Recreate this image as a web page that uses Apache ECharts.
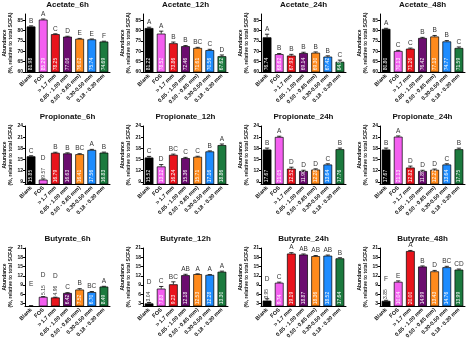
<!DOCTYPE html>
<html><head><meta charset="utf-8">
<script src="https://cdn.jsdelivr.net/npm/echarts@6/dist/echarts.min.js"></script>
<style>html,body{margin:0;padding:0;background:#fff}#c{width:474px;height:342px}</style>
</head><body><div id="c"></div>
<script>
// ---- data ----
const categories = ['Blank','FOS','> 1.7 mm','0.85 - 1.00 mm','0.50 - 0.85 mm)','0.30-0.50 mm','0.18 - 0.30 mm'];

const panelTitles = ['Acetate_6h','Acetate_12h','Acetate_24h','Acetate_48h',
                     'Propionate_6h','Propionate_12h','Propionate_24h','Propionate_24h',
                     'Butyrate_6h','Butyrate_12h','Butyrate_24h','Butyrate_48h'];

const acetate6h  = [81.98, 85.29, 78.25, 77.06, 76.02, 75.74, 74.69];
const acetate12h = [81.22, 78.52, 73.86, 72.46, 71.61, 70.56, 67.62];
const acetate24h = [76.74, 68.62, 67.93, 69.14, 69.30, 67.42, 64.94];
const acetate48h = [80.80, 70.13, 71.26, 76.42, 77.13, 74.77, 71.59];
const propionate6h  = [15.85, 9.57, 16.79, 16.63, 16.41, 17.56, 16.83];
const propionate12h = [15.52, 13.12, 16.24, 15.36, 15.71, 17.16, 18.86];
const propionate24h = [17.67, 21.05, 12.52, 11.90, 12.28, 13.64, 17.76];
const propionate48h = [17.67, 21.13, 12.82, 11.89, 12.22, 13.64, 17.75];
const butyrate6h  = [2.25, 5.15, 4.96, 6.42, 7.52, 6.70, 8.49];
const butyrate12h = [3.04, 7.83, 9.23, 12.18, 12.53, 12.28, 13.30];
const butyrate24h = [3.95, 9.74, 19.19, 18.87, 18.36, 18.52, 17.64];
const butyrate48h = [3.85, 10.04, 20.00, 14.99, 13.43, 14.76, 13.99];

const acetate6hErr  = [0.3, 0.3, 0.2, 0.2, 0.2, 0.2, 0.2];
const acetate12hErr = [0.4, 1.2, 0.6, 0.3, 0.3, 0.4, 0.6];
const acetate24hErr = [1.5, 0.3, 0.6, 0.4, 0.4, 0.4, 0.8];
const acetate48hErr = [0.3, 0.3, 0.3, 0.3, 0.5, 0.4, 0.5];
const propionate6hErr  = [0.15, 0.2, 0.15, 0.15, 0.15, 0.15, 0.15];
const propionate12hErr = [0.3, 0.5, 0.2, 0.2, 0.15, 0.15, 0.3];
const propionate24hErr = [0.4, 0.2, 0.4, 0.2, 0.2, 0.2, 0.3];
const propionate48hErr = [0.4, 0.2, 0.4, 0.2, 0.2, 0.2, 0.3];
const butyrate6hErr  = [0.1, 0.1, 0.1, 0.1, 0.3, 0.2, 0.1];
const butyrate12hErr = [0.3, 0.7, 0.8, 0.3, 0.1, 0.1, 0.2];
const butyrate24hErr = [0.6, 0.2, 0.3, 0.2, 0.2, 0.2, 0.2];
const butyrate48hErr = [0.2, 0.3, 0.2, 0.2, 0.3, 0.3, 0.2];

const acetate6hLetters  = ['B','A','C','D','E','E','F'];
const acetate12hLetters = ['A','A','B','B','BC','C','D'];
const acetate24hLetters = ['A','B','B','B','B','B','C'];
const acetate48hLetters = ['A','C','C','B','B','B','C'];
const propionate6hLetters  = ['C','D','B','B','BC','A','B'];
const propionate12hLetters = ['C','D','BC','C','C','B','A'];
const propionate24hLetters = ['B','A','D','D','D','C','B'];
const propionate48hLetters = ['B','A','D','D','D','C','B'];
const butyrate6hLetters  = ['E','D','D','C','B','BC','A'];
const butyrate12hLetters = ['D','C','BC','AB','A','A','A'];
const butyrate24hLetters = ['D','C','A','AB','AB','AB','B'];
const butyrate48hLetters = ['F','E','A','B','D','BC','CD'];

const acetateTicks    = [60, 65, 70, 75, 80, 85];
const propionateTicks = [9, 12, 15, 18, 21, 24];
const butyrateTicks   = [3, 6, 9, 12, 15, 18, 21];

const panelValues = [acetate6h, acetate12h, acetate24h, acetate48h,
                     propionate6h, propionate12h, propionate24h, propionate48h,
                     butyrate6h, butyrate12h, butyrate24h, butyrate48h];
const panelErrs = [acetate6hErr, acetate12hErr, acetate24hErr, acetate48hErr,
                   propionate6hErr, propionate12hErr, propionate24hErr, propionate48hErr,
                   butyrate6hErr, butyrate12hErr, butyrate24hErr, butyrate48hErr];
const panelLetters = [acetate6hLetters, acetate12hLetters, acetate24hLetters, acetate48hLetters,
                      propionate6hLetters, propionate12hLetters, propionate24hLetters, propionate48hLetters,
                      butyrate6hLetters, butyrate12hLetters, butyrate24hLetters, butyrate48hLetters];
const rowTicks = [acetateTicks, propionateTicks, butyrateTicks];

// ---- style / layout ----
const barColors = ['#000000', '#f45ff0', '#e8141c', '#6b0d6f', '#ff8a1c', '#1e8cff', '#1c7a3e'];
const rowRange = [[60, 88], [8.4, 24], [2.2, 21]];
const colLeft = [25, 143, 261, 380];
const rowTop = [14, 126, 248];
const gridW = 85, gridH = 58;
const FONT = 'Liberation Sans, Arial, sans-serif';

const chart = echarts.init(document.getElementById('c'), null, {renderer: 'canvas'});
const grids = [], xAxes = [], yAxes = [], series = [], titles = [];

for (let p = 0; p < 12; p++) {
  const r = Math.floor(p / 4), c = p % 4;
  const [mn, mx] = rowRange[r];
  const vals = panelValues[p], errs = panelErrs[p], lets = panelLetters[p];
  const isShort = v => (v - mn) / (mx - mn) * gridH < 9.3;
  grids.push({left: colLeft[c], top: rowTop[r], width: gridW, height: gridH, containLabel: false});
  titles.push({text: panelTitles[p], left: colLeft[c] + gridW / 2, top: rowTop[r] - 13, textAlign: 'center', padding: 0,
    textStyle: {fontSize: 8, fontWeight: 'bold', color: '#111', fontFamily: FONT}});
  xAxes.push({type: 'category', gridIndex: p, data: categories,
    axisLine: {lineStyle: {color: '#000', width: 1}},
    axisTick: {show: false},
    axisLabel: {interval: 0, rotate: 45, fontSize: 5.5, fontWeight: 'bold', color: '#111', margin: 3, fontFamily: FONT}});
  yAxes.push({type: 'value', gridIndex: p, min: mn, max: mx,
    name: 'Abundance\n(%, relative to total SCFA)', nameLocation: 'middle', nameGap: 9, nameRotate: 90,
    nameTextStyle: {fontSize: 5, fontWeight: 'bold', color: '#111', lineHeight: 6, fontFamily: FONT},
    splitLine: {show: false},
    axisLine: {show: true, lineStyle: {color: '#000', width: 1}},
    axisTick: {show: true, length: 2, customValues: rowTicks[r], lineStyle: {color: '#000'}},
    axisLabel: {fontSize: 5, fontWeight: 'bold', color: '#111', margin: 2, customValues: rowTicks[r], fontFamily: FONT}});
  series.push({type: 'bar', xAxisIndex: p, yAxisIndex: p, barWidth: '72%',
    data: vals.map((v, i) => ({value: v,
      itemStyle: {color: barColors[i], borderColor: '#000', borderWidth: 0.7},
      label: isShort(v)
        ? {show: true, position: 'top', rotate: 90, align: 'left', verticalAlign: 'middle', distance: 2,
           color: '#333', fontSize: 5, fontFamily: FONT, formatter: q => q.value.toFixed(2)}
        : {show: true, position: 'insideBottom', rotate: 90, align: 'left', verticalAlign: 'middle', distance: 2,
           color: '#fff', fontSize: 5, fontFamily: FONT, formatter: q => q.value.toFixed(2)}
    }))});
  series.push({type: 'custom', xAxisIndex: p, yAxisIndex: p, z: 5,
    data: vals.map((v, i) => [i, v, errs[i]]),
    renderItem: (params, api) => {
      const x = api.value(0), v = api.value(1), e = api.value(2);
      const base = api.coord([x, v]);
      const top = api.coord([x, v + e]);
      const bw = api.size([1, 0])[0];
      const cw = bw * 0.35;
      let ty = top[1] - 1.5;
      if (isShort(v)) ty = Math.min(ty, base[1] - 18);
      return {type: 'group', children: [
        {type: 'line', shape: {x1: base[0], y1: base[1], x2: top[0], y2: top[1]}, style: {stroke: '#000', lineWidth: 0.8}},
        {type: 'line', shape: {x1: top[0] - cw / 2, y1: top[1], x2: top[0] + cw / 2, y2: top[1]}, style: {stroke: '#000', lineWidth: 0.8}},
        {type: 'text', style: {text: lets[params.dataIndex], x: top[0], y: ty, align: 'center', verticalAlign: 'bottom',
          fontSize: 6.5, fill: '#333', fontFamily: FONT}}
      ]};
    }});
}

chart.setOption({animation: false, title: titles, grid: grids, xAxis: xAxes, yAxis: yAxes, series: series});
</script></body></html>
